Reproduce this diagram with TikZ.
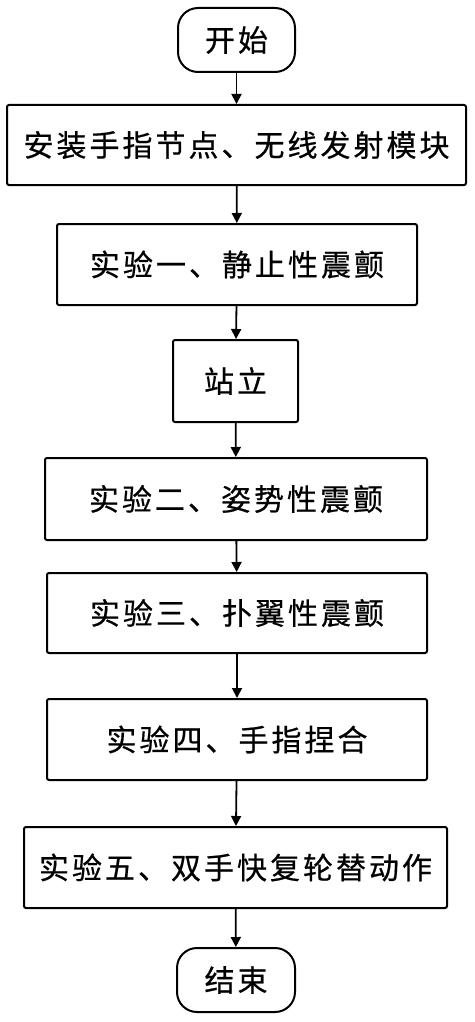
\documentclass[tikz,border=0pt]{standalone}
\usepackage{fontspec}
\newfontfamily\cjk[LetterSpace=10,FakeBold=0.6]{Noto Sans CJK SC}
\usetikzlibrary{arrows.meta}
\begin{document}
\begin{tikzpicture}[x=1pt,y=-1pt,
  box/.style={draw,line width=2pt,rounded corners=2pt,inner sep=0pt,
    font=\cjk\fontsize{30}{33}\selectfont,align=center},
  term/.style={box,rounded corners=20pt},
  arr/.style={line width=1.8pt,-{Triangle[width=10pt,length=10pt]}}]
\useasboundingbox (0,0) rectangle (474,1022);
\node[term,minimum width=117pt,minimum height=64pt] (s) at (236.5,40) {开始};
\node[box,minimum width=459pt,minimum height=80pt] (b1) at (236.5,145) {安装手指节点、无线发射模块};
\node[box,minimum width=360pt,minimum height=81pt] (b2) at (237,264.5) {实验一、静止性震颤};
\node[box,minimum width=125pt,minimum height=82pt] (b3) at (235.5,381) {站立};
\node[box,minimum width=382pt,minimum height=82pt] (b4) at (236,499) {实验二、姿势性震颤};
\node[box,minimum width=380pt,minimum height=80pt] (b5) at (237,613) {实验三、扑翼性震颤};
\node[box,minimum width=380pt,minimum height=81pt] (b6) at (237,739.5) {实验四、手指捏合};
\node[box,minimum width=423pt,minimum height=81pt] (b7) at (235.5,867.5) {实验五、双手快复轮替动作};
\node[term,minimum width=118pt,minimum height=64pt] (e) at (236,980) {结束};
\draw[arr] (s) -- (b1);
\draw[arr] (b1) -- (b2);
\draw[arr] (b2) -- (b3);
\draw[arr] (b3) -- (b4);
\draw[arr] (b4) -- (b5);
\draw[arr] (b5) -- (b6);
\draw[arr] (b6) -- (b7);
\draw[arr] (b7) -- (e);
\end{tikzpicture}
\end{document}
